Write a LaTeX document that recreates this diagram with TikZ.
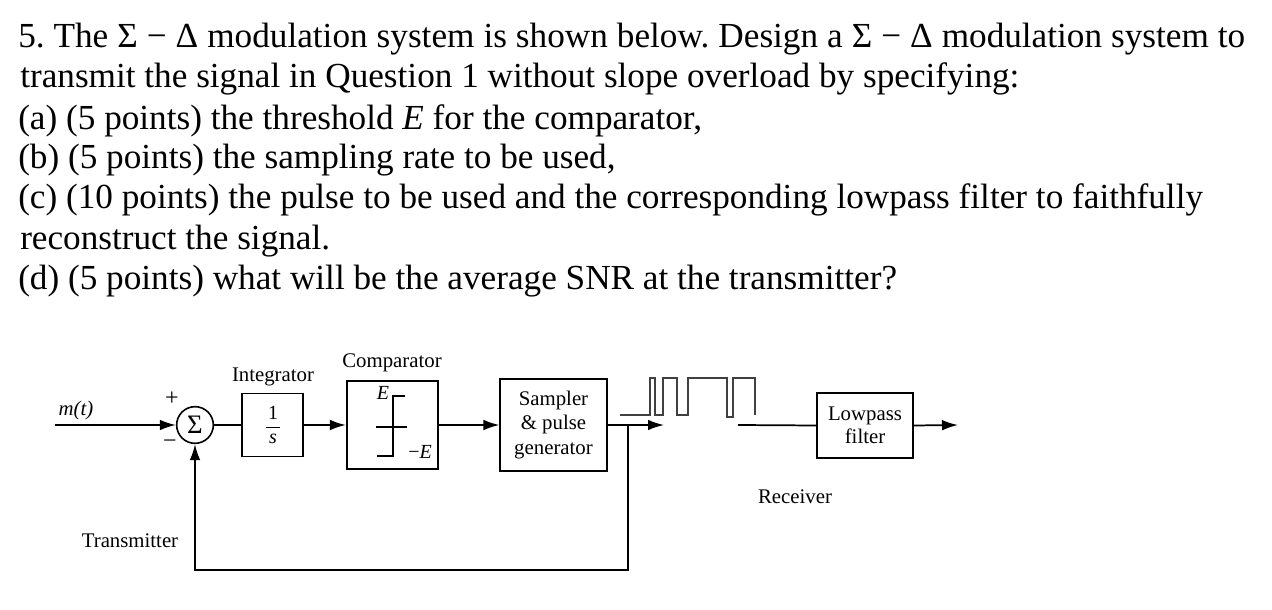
\documentclass[tikz,border=0pt]{standalone}
\usepackage{fontspec}
\setmainfont{Liberation Serif}
\usetikzlibrary{arrows.meta}
\begin{document}
\frenchspacing
\begin{tikzpicture}[x=0.75pt,y=-0.75pt]
\useasboundingbox[fill=white] (0,0) rectangle (1272,610);
\tikzset{
  qline/.style={anchor=base west, inner sep=0pt, font=\fontsize{26.4}{30}\selectfont},
  lbl/.style={inner sep=0pt, font=\fontsize{15.6}{18.75}\selectfont},
  blk/.style={draw, line width=1.1pt, inner sep=0pt, align=center, font=\fontsize{15.6}{18.75}\selectfont},
  sig/.style={line width=1.3pt},
  arr/.style={sig, -{Latex[length=12pt,width=8pt]}},
  wave/.style={line width=0.9pt, black!75},
}
% question text
\node[qline] (l1) at (18,48) {\makebox[920.25pt][s]{5. The Σ − Δ modulation system is shown below. Design a Σ − Δ modulation system to}};
\node[qline] (l2) at (20,88) {transmit the signal in Question 1 without slope overload by specifying:};
\node[qline] (l3) at (18,129) {(a) (5 points) the threshold \textit{E} for the comparator,};
\node[qline] (l4) at (18,169) {(b) (5 points) the sampling rate to be used,};
\node[qline] (l5) at (18,209) {(c) (10 points) the pulse to be used and the corresponding lowpass filter to faithfully};
\node[qline] (l6) at (20,249) {reconstruct the signal.};
\node[qline] (l7) at (18,289) {(d) (5 points) what will be the average SNR at the transmitter?};

% blocks
\node[draw, circle, line width=1.2pt, minimum size=27.5pt, inner sep=0pt, font=\fontsize{20}{20}\selectfont] (sum) at (195,425) {Σ};
\node[blk, minimum width=45.75pt, minimum height=47pt] (int) at (272.5,425) {};
\node[lbl, font=\fontsize{15}{15}\selectfont] (one) at (273,413) {1};
\node[lbl, font=\fontsize{15}{15}\selectfont\itshape] (ess) at (273,439) {s};
\draw[line width=0.7pt] (266,427) -- (280,427);
\node[blk, line width=1.9pt, minimum width=68pt, minimum height=66pt] (cmp) at (392.5,425) {};
\node[blk, minimum width=80pt, minimum height=69pt] (samp) at (553.5,425) {Sampler\\[-0.5pt]\& pulse\\[-0.5pt]generator};
\node[blk, minimum width=72pt, minimum height=49pt] (lp) at (865,425.5) {Lowpass\\[-1.5pt]filter};

% comparator characteristic
\draw[line width=1.7pt] (376,427) -- (407,427);
\draw[line width=1.7pt] (377,456) -- (393,456) -- (393,396) -- (405,396);
\node[lbl, font=\fontsize{15}{15}\selectfont\itshape] (eup) at (383,393) {E};
\node[lbl, font=\fontsize{15}{15}\selectfont] (edn) at (420,452) {−\textit{E}};

% labels
\node[lbl] (intl) at (273,377) {Integrator};
\node[lbl] (cmpl) at (392,363) {Comparator};
\node[lbl, font=\fontsize{15.6}{18}\selectfont\itshape] (mt) at (76,410) {m(t)};
\node[lbl, font=\fontsize{18}{18}\selectfont] (plus) at (172,399) {+};
\node[lbl, font=\fontsize{18}{18}\selectfont] (minus) at (170,444) {−};
\node[lbl] (tx) at (130,541) {Transmitter};
\node[lbl] (rx) at (795,497) {Receiver};

% connectors
\coordinate (in) at (55,425);
\coordinate (txout) at (664,425);
\coordinate (fb) at (628,425);
\coordinate (fbr) at (628,570);
\coordinate (fbl) at (195,570);
\coordinate (rxin) at (738,425);
\coordinate (out) at (958,425);
\draw[arr] (in) -- (sum.west);
\draw[sig] (sum.east) -- (int.west);
\draw[arr] (int.east) -- (cmp.west);
\draw[arr] (cmp.east) -- (samp.west);
\draw[arr] (samp.east) -- (txout);
\draw[arr] (fb) -- (fbr) -- (fbl) -- (sum.south);
\draw[sig] (rxin) -- (lp.west);
\draw[arr] (lp.east) -- (out);

% pulse train
\draw[wave] (620,415) -- (650,415) -- (650,378) -- (655,378) -- (655,415) -- (663,415) -- (663,378) -- (677,378) -- (677,415) -- (688,415) -- (688,378) -- (727,378) -- (727,417) -- (733,417) -- (733,378) -- (755,378) -- (755,415);
\end{tikzpicture}
\end{document}
